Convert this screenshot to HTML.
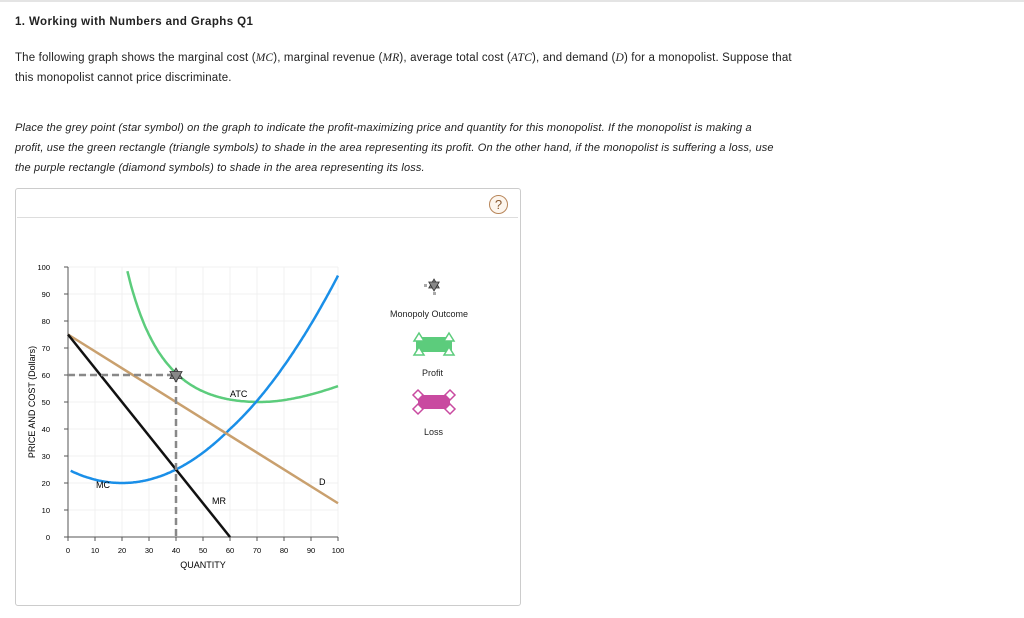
<!DOCTYPE html><html><head><style>
body{margin:0;width:1024px;height:618px;background:#fff;font-family:"Liberation Sans",sans-serif;position:relative;overflow:hidden}
.t{position:absolute;font-size:11.5px;color:#222;white-space:nowrap}
</style></head><body>
<div style="position:absolute;left:0;top:0;width:1024px;height:2px;background:#e4e4e4"></div>
<div class="t" style="left:15px;top:16px;font-weight:bold;font-size:11.5px;letter-spacing:0.4px">1. Working with Numbers and Graphs Q1</div>
<div class="t" style="left:15px;top:52px;letter-spacing:0.15px">The following graph shows the marginal cost (<i style="font-family:'Liberation Serif'">MC</i>), marginal revenue (<i style="font-family:'Liberation Serif'">MR</i>), average total cost (<i style="font-family:'Liberation Serif'">ATC</i>), and demand (<i style="font-family:'Liberation Serif'">D</i>) for a monopolist. Suppose that</div>
<div class="t" style="left:15px;top:72px;letter-spacing:0.15px">this monopolist cannot price discriminate.</div>
<div class="t" style="left:15px;top:122px;font-style:italic;font-size:11px;letter-spacing:0.15px">Place the grey point (star symbol) on the graph to indicate the profit-maximizing price and quantity for this monopolist. If the monopolist is making a</div>
<div class="t" style="left:15px;top:142px;font-style:italic;font-size:11px;letter-spacing:0.15px">profit, use the green rectangle (triangle symbols) to shade in the area representing its profit. On the other hand, if the monopolist is suffering a loss, use</div>
<div class="t" style="left:15px;top:162px;font-style:italic;font-size:11px;letter-spacing:0.15px">the purple rectangle (diamond symbols) to shade in the area representing its loss.</div>
<div style="position:absolute;left:15px;top:188px;width:504px;height:416px;border:1px solid #ccc;border-radius:3px"></div>
<div style="position:absolute;left:17px;top:217px;width:501px;height:1px;background:#ddd"></div>
<div style="position:absolute;left:489px;top:195px;width:17px;height:17px;border:1.5px solid #b8865a;border-radius:50%;background:#fdf6ee;color:#8a5a30;font-size:13px;text-align:center;line-height:17px">?</div>
<svg id="s" width="1024" height="618" style="position:absolute;left:0;top:0" font-family="Liberation Sans" font-size="8">
</svg>
<div class="t" style="left:390px;top:309px;font-size:9px">Monopoly Outcome</div>
<div class="t" style="left:422px;top:368px;font-size:9px">Profit</div>
<div class="t" style="left:424px;top:427px;font-size:9px">Loss</div>
<script>
var s=document.getElementById('s'),h='';
function X(q){return 68+2.7*q}function Y(p){return 537-2.7*p}
for(var i=1;i<=10;i++){h+='<line x1="'+X(i*10)+'" y1="267" x2="'+X(i*10)+'" y2="537" stroke="#f0f0f0"/>';h+='<line x1="68" y1="'+Y(i*10)+'" x2="338" y2="'+Y(i*10)+'" stroke="#f0f0f0"/>';}
h+='<line x1="68" y1="267" x2="68" y2="537" stroke="#555"/><line x1="68" y1="537" x2="338" y2="537" stroke="#555"/>';
for(var i=0;i<=10;i++){h+='<line x1="'+X(i*10)+'" y1="537" x2="'+X(i*10)+'" y2="541" stroke="#555"/><text x="'+X(i*10)+'" y="553" text-anchor="middle" font-size="7.5">'+i*10+'</text>';
h+='<line x1="64" y1="'+Y(i*10)+'" x2="68" y2="'+Y(i*10)+'" stroke="#555"/><text x="50" y="'+(Y(i*10)+3)+'" text-anchor="end" font-size="7.5">'+i*10+'</text>';}
h+='<text x="203" y="568" text-anchor="middle" font-size="9">QUANTITY</text><text transform="translate(35,402) rotate(-90)" text-anchor="middle" font-size="9">PRICE AND COST (Dollars)</text>';
function path(f,a,b,c,w){var d='';for(var q=a;q<=b;q+=0.5){d+=(d?'L':'M')+X(q).toFixed(1)+','+Y(f(q)).toFixed(1);}return '<path d="'+d+'" fill="none" stroke="'+c+'" stroke-width="'+w+'"/>';}
h+=path(function(q){var v=50+0.444*(q-71)*(q-71)/q;return q>71?50+0.7*(q-71)*(q-71)/q:v;},22,100,'#5ccc7c',2.5);
h+=path(function(q){return 20+(q-20)*(q-20)/80-(q>60?(q-60)*0.08:0)},1,100,'#1a8fe8',2.5);
h+='<line x1="'+X(0)+'" y1="'+Y(75)+'" x2="'+X(100)+'" y2="'+Y(12.5)+'" stroke="#c9a06e" stroke-width="2.5"/>';
h+='<line x1="'+X(0)+'" y1="'+Y(75)+'" x2="'+X(60)+'" y2="'+Y(0)+'" stroke="#111" stroke-width="2.5"/>';
h+='<line x1="68" y1="'+Y(60)+'" x2="'+X(40)+'" y2="'+Y(60)+'" stroke="#888" stroke-width="2.5" stroke-dasharray="7,4"/><line x1="'+X(40)+'" y1="'+Y(60)+'" x2="'+X(40)+'" y2="537" stroke="#888" stroke-width="2.5" stroke-dasharray="7,4"/>';
function star(x,y,r){return '<polygon points="'+x+','+(y-r)+' '+(x+r*0.87)+','+(y+r/2)+' '+(x-r*0.87)+','+(y+r/2)+'" fill="#888" stroke="#333" stroke-width="0.8"/><polygon points="'+x+','+(y+r)+' '+(x+r*0.87)+','+(y-r/2)+' '+(x-r*0.87)+','+(y-r/2)+'" fill="#888" stroke="#333" stroke-width="0.8"/>';}
h+=star(X(40),Y(60),7);h+=star(434,285,6);h+='<rect x="424" y="284" width="3" height="3" fill="#aaa"/><rect x="433" y="292" width="3" height="3" fill="#aaa"/>';
h+='<text x="230" y="397" font-size="9">ATC</text><text x="96" y="488" font-size="9">MC</text><text x="212" y="504" font-size="9">MR</text><text x="319" y="485" font-size="9">D</text>';
h+='<rect x="416" y="337" width="36" height="15" fill="#5ccc7c"/>';
[[419,338],[449,338],[419,352],[449,352]].forEach(function(p){h+='<polygon points="'+p[0]+','+(p[1]-5)+' '+(p[0]+5)+','+(p[1]+3)+' '+(p[0]-5)+','+(p[1]+3)+'" fill="#fff" stroke="#5ccc7c" stroke-width="1.5"/>';});
h+='<rect x="418" y="395" width="32" height="14" fill="#c94aa0"/>';
[[418,395],[450,395],[418,409],[450,409]].forEach(function(p){h+='<polygon points="'+p[0]+','+(p[1]-5)+' '+(p[0]+5)+','+p[1]+' '+p[0]+','+(p[1]+5)+' '+(p[0]-5)+','+p[1]+'" fill="#fff" stroke="#c94aa0" stroke-width="1.5"/>';});
s.innerHTML=h;
</script>
</body></html>
